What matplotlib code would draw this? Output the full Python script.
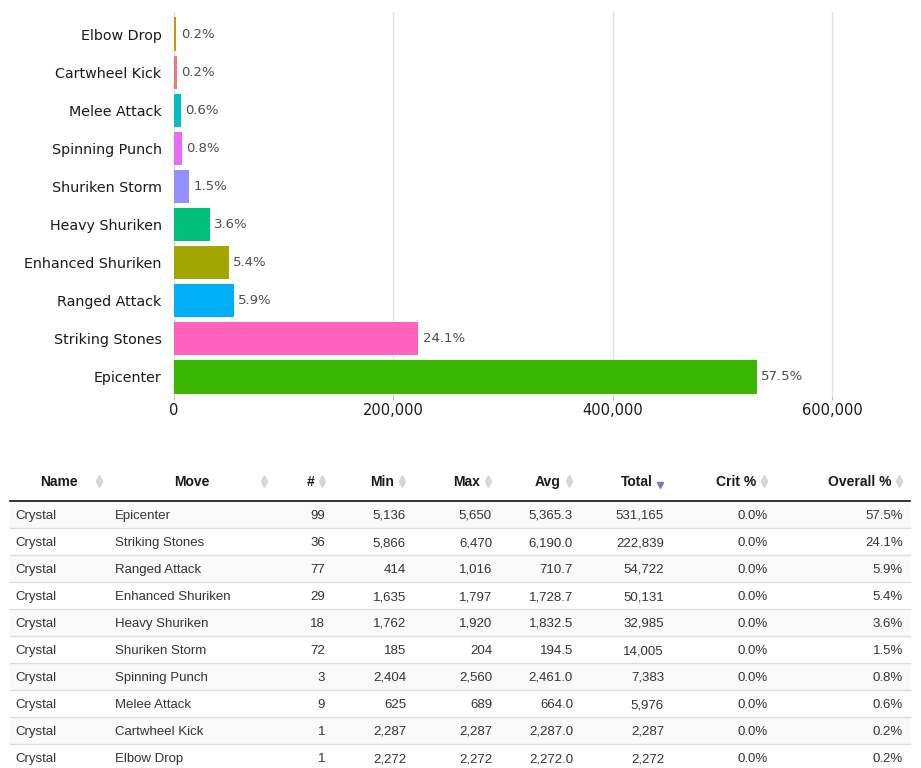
import matplotlib
matplotlib.use("Agg")
import matplotlib.pyplot as plt
from matplotlib.ticker import FuncFormatter

# ---------------- data ----------------
names = ["Crystal"] * 10
moves = ["Epicenter", "Striking Stones", "Ranged Attack", "Enhanced Shuriken",
         "Heavy Shuriken", "Shuriken Storm", "Spinning Punch", "Melee Attack",
         "Cartwheel Kick", "Elbow Drop"]
counts = [99, 36, 77, 29, 18, 72, 3, 9, 1, 1]
mins = [5136, 5866, 414, 1635, 1762, 185, 2404, 625, 2287, 2272]
maxs = [5650, 6470, 1016, 1797, 1920, 204, 2560, 689, 2287, 2272]
avgs = [5365.3, 6190.0, 710.7, 1728.7, 1832.5, 194.5, 2461.0, 664.0, 2287.0, 2272.0]
totals = [531165, 222839, 54722, 50131, 32985, 14005, 7383, 5976, 2287, 2272]
crits = [0.0, 0.0, 0.0, 0.0, 0.0, 0.0, 0.0, 0.0, 0.0, 0.0]
overall = [57.5, 24.1, 5.9, 5.4, 3.6, 1.5, 0.8, 0.6, 0.2, 0.2]
bar_colors = ["#39B600", "#FF62BC", "#00B0F6", "#A3A500", "#00BF7D",
              "#9590FF", "#E76BF3", "#00BFC4", "#F8766D", "#D89000"]
x_ticks = [0, 200000, 400000, 600000]
headers = ["Name", "Move", "#", "Min", "Max", "Avg", "Total", "Crit %", "Overall %"]

W, H = 921, 768
fig = plt.figure(figsize=(W / 100, H / 100), dpi=100)

# ---------------- bar chart ----------------
ax_left, ax_right, ax_top, ax_bot = 174, 860, 12, 396
ax = fig.add_axes([ax_left / W, 1 - ax_bot / H, (ax_right - ax_left) / W, (ax_bot - ax_top) / H])
ypos = list(range(len(moves)))
ax.barh(ypos, totals, height=0.87, color=bar_colors, zorder=2)
ax.set_ylim(-0.5, len(moves) - 0.5 + 3 / 38.1)
xmax = 600000 * (ax_right - ax_left) / (832 - 174)
ax.set_xlim(0, xmax)
ax.set_xticks(x_ticks)
ax.xaxis.set_major_formatter(FuncFormatter(lambda v, p: f"{int(v):,}"))
ax.set_yticks(ypos)
ax.set_yticklabels(moves, fontsize=10.3, color="#1a1a1a", family="DejaVu Sans")
ax.tick_params(axis="y", length=0, pad=9)
ax.tick_params(axis="x", length=3, color="#bbbbbb", labelsize=10.5, labelcolor="#1a1a1a", pad=2)
ax.grid(axis="x", color="#e3e3e3", linewidth=1, zorder=0)
for s in ax.spines.values():
    s.set_visible(False)
for yv, tv, ov in zip(ypos, totals, overall):
    ax.annotate(f"{ov:.1f}%", xy=(tv, yv), xytext=(3, 0), textcoords="offset points",
                ha="left", va="center", fontsize=9.5, color="#4d4d4d", family="DejaVu Sans")

# ---------------- table ----------------
tb = fig.add_axes([0, 0, 1, 1])
tb.set_xlim(0, W)
tb.set_ylim(H, 0)
tb.axis("off")
tb.patch.set_alpha(0)

tfont = "Liberation Sans"
row_h = 27
header_y = 481
line_y = 501
# header columns: (text x, alignment, icon x)
head_pos = [(59, "center", 99), (191.5, "center", 264), (314, "right", 322),
            (394, "right", 402), (480, "right", 488), (561, "right", 569),
            (653, "right", 660), (756, "right", 764), (891, "right", 899)]
for (hx, ha, ix), htxt in zip(head_pos, headers):
    tb.text(hx, header_y + 5, htxt, ha=ha, va="baseline", fontsize=10, fontweight="bold",
            color="#1a1a1a", family=tfont)
    if htxt == "Total":
        tb.plot([ix], [header_y + 4], marker="v", markersize=5, color="#7377d0",
                linestyle="none")
    else:
        tb.plot([ix], [header_y - 3], marker="^", markersize=4, color="#d6d6d6",
                linestyle="none")
        tb.plot([ix], [header_y + 3], marker="v", markersize=4, color="#d6d6d6",
                linestyle="none")

# rows
for i in range(len(moves)):
    top = line_y + i * row_h
    if i % 2 == 0:
        tb.add_patch(plt.Rectangle((10, top), 900, row_h, color="#f9f9f9", zorder=0, lw=0))
    if i > 0:
        tb.plot([10, 910], [top, top], color="#dddddd", lw=1, zorder=1)
    base = top + row_h / 2 + 4.5
    cells = [
        (15, "left", names[i]),
        (115, "left", moves[i]),
        (325, "right", f"{counts[i]}"),
        (406, "right", f"{mins[i]:,}"),
        (492, "right", f"{maxs[i]:,}"),
        (573, "right", f"{avgs[i]:,.1f}"),
        (664, "right", f"{totals[i]:,}"),
        (768, "right", f"{crits[i]:.1f}%"),
        (903, "right", f"{overall[i]:.1f}%"),
    ]
    for cx, ha, txt in cells:
        tb.text(cx, base, txt, ha=ha, va="baseline", fontsize=9.5, color="#333333",
                family=tfont, zorder=2)

tb.plot([10, 910], [line_y, line_y], color="#111111", lw=1.2, zorder=3)

fig.savefig("out.png", dpi=100)
